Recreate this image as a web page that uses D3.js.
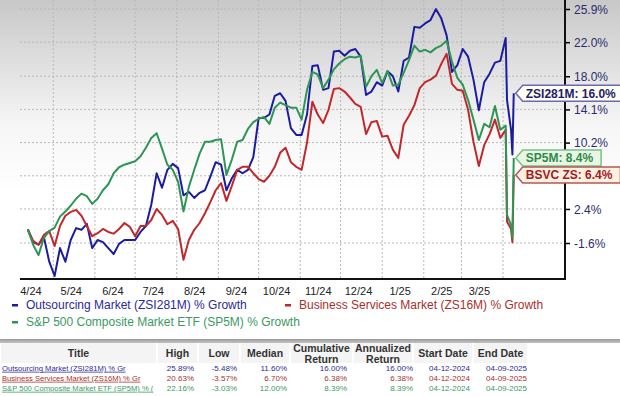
<!DOCTYPE html>
<html>
<head>
<meta charset="utf-8">
<title>Outsourcing vs Business Services vs S&amp;P 500</title>
<style type="text/css">
    body{ margin:0; background:#fff; }
    svg{ display:block; font-family:"Liberation Sans", Arial, sans-serif; }
</style>
</head>
<body>
<div id="chart"></div>

<script src="https://cdn.jsdelivr.net/npm/d3@7"></script>
<script type="text/javascript">

// sample dates (every 4 days, then the last trading days)
var dates = [
 "2024-04-12","2024-04-16","2024-04-20","2024-04-24","2024-04-28",
 "2024-05-02","2024-05-06","2024-05-10","2024-05-14","2024-05-18","2024-05-22","2024-05-26","2024-05-30",
 "2024-06-03","2024-06-07","2024-06-11","2024-06-15","2024-06-19","2024-06-23","2024-06-27",
 "2024-07-01","2024-07-05","2024-07-09","2024-07-13","2024-07-17","2024-07-21","2024-07-25","2024-07-29",
 "2024-08-02","2024-08-06","2024-08-10","2024-08-14","2024-08-18","2024-08-22","2024-08-26","2024-08-30",
 "2024-09-03","2024-09-07","2024-09-11","2024-09-15","2024-09-19","2024-09-23","2024-09-27",
 "2024-10-01","2024-10-05","2024-10-09","2024-10-13","2024-10-17","2024-10-21","2024-10-25","2024-10-29",
 "2024-11-02","2024-11-06","2024-11-10","2024-11-14","2024-11-18","2024-11-22","2024-11-26","2024-11-30",
 "2024-12-04","2024-12-08","2024-12-12","2024-12-16","2024-12-20","2024-12-24","2024-12-28",
 "2025-01-01","2025-01-05","2025-01-09","2025-01-13","2025-01-17","2025-01-21","2025-01-25","2025-01-29",
 "2025-02-02","2025-02-06","2025-02-10","2025-02-14","2025-02-18","2025-02-22","2025-02-26",
 "2025-03-02","2025-03-06","2025-03-10","2025-03-14","2025-03-18","2025-03-22","2025-03-26","2025-03-30",
 "2025-04-03","2025-04-04","2025-04-07","2025-04-08","2025-04-09"
];

// % growth
var outsourcing = [
 0.0,-1.5,-1.8,-0.9,-3.8,
 -5.48,-2.2,-3.8,-1.25,0.15,-0.05,0.65,-2.2,
 -1.25,-1.5,-2.2,-2.9,-1.7,-1.25,-1.25,
 -1.25,-0.3,0.4,2.9,6.6,4.9,7.0,7.7,
 7.2,4.0,4.4,3.7,4.3,4.6,6.2,7.9,
 7.6,4.6,6.0,7.0,6.6,7.0,8.5,
 13.1,13.1,13.5,15.7,16.0,15.1,11.9,11.1,
 11.1,13.5,19.2,19.3,16.4,16.6,20.9,21.0,
 20.4,21.0,21.2,20.3,15.8,16.2,17.3,
 16.9,18.6,18.0,16.2,19.8,20.2,23.8,23.7,
 24.2,24.6,25.89,24.8,22.8,18.5,19.3,
 21.2,20.3,17.6,14.0,17.3,18.3,19.6,19.8,
 22.5,15.2,11.7,8.8,16.0
];

var businessServices = [
 0.0,-1.35,-1.8,-0.65,-0.2,
 -1.95,0.4,1.6,2.05,2.3,1.6,0.4,-0.8,
 -0.45,0.05,-0.3,-0.5,0.05,0.75,0.3,
 -0.8,0.4,0.4,1.1,2.4,1.7,0.6,1.0,
 0.05,-3.57,-1.25,-0.05,0.75,1.9,3.2,4.6,
 5.45,3.35,5.1,7.0,7.35,7.35,6.6,
 5.9,5.6,6.3,7.35,9.0,9.6,7.9,7.35,
 7.0,10.2,15.0,13.5,12.5,14.05,16.5,16.6,
 16.2,15.5,14.75,14.4,11.2,12.6,12.75,
 10.9,11.0,9.35,8.4,12.3,13.35,14.6,16.6,
 17.3,17.6,18.05,19.45,20.63,17.1,16.4,
 16.3,14.05,10.3,7.45,9.9,11.2,12.9,10.75,
 11.7,0.9,0.05,-1.5,6.4
];

var sp500 = [
 0.0,-1.8,-3.03,-1.0,-0.2,
 0.2,1.5,2.1,2.8,3.6,4.2,3.9,3.0,
 3.6,4.6,5.3,6.6,7.3,7.6,7.8,
 8.0,8.6,9.6,10.75,11.3,9.5,7.6,7.0,
 5.6,2.1,5.0,7.0,8.9,10.3,10.3,10.5,
 10.6,6.4,8.2,10.3,10.5,11.8,12.6,
 13.0,13.2,12.4,14.3,14.9,14.6,14.3,14.3,
 12.9,16.4,18.5,18.2,16.6,17.6,18.8,19.5,
 20.0,20.3,20.2,20.4,16.75,18.0,18.75,
 17.2,18.6,16.9,17.0,18.4,19.9,21.6,20.9,
 21.1,20.8,21.3,21.6,22.16,19.7,17.8,
 17.0,15.2,12.9,10.5,12.4,12.0,14.5,11.7,
 12.2,1.7,0.5,-1.0,8.4
];

var yTicks = [-1.6, 2.4, 6.3, 10.2, 14.1, 18.0, 22.0, 25.9];
var hiddenTick = 6.3;   // its label sits under the tag boxes in the original
var monthLabels = ["4/24","5/24","6/24","7/24","8/24","9/24","10/24","11/24","12/24","1/25","2/25","3/25"];

var seriesNames = ["Outsourcing Market (ZSI281M) % Growth",
                   "Business Services Market (ZS16M) % Growth",
                   "S&P 500 Composite Market ETF (SP5M) % Growth"];
var tagNames = ["ZSI281M", "BSVC ZS", "SP5M"];

// table
var tableTitles = ["Outsourcing Market (ZSI281M) % Gr",
                   "Business Services Market (ZS16M) % Gr",
                   "S&P 500 Composite Market ETF (SP5M) % ("];
var highs = ["25.89%","20.63%","22.16%"];
var lows = ["-5.48%","-3.57%","-3.03%"];
var medians = ["11.60%","6.70%","12.00%"];
var cumulative = ["16.00%","6.38%","8.39%"];
var annualized = ["16.00%","6.38%","8.39%"];
var startDates = ["04-12-2024","04-12-2024","04-12-2024"];
var endDates = ["04-09-2025","04-09-2025","04-09-2025"];

var width = 620, height = 396;
var plotLeft = 20, plotRight = 565, plotBottom = 279;

var lineColors = ["#1c1ca0", "#c0282c", "#2e9556"];
var textColors = ["#2a2a9a", "#a8302c", "#3a9a62"];
var tagFill = ["#fffdf0", "#fdf0e2", "#e9f6e4"];
var tagStroke = ["#6a6ab0", "#b05a50", "#78c088"];
var tagText = ["#1e1e6e", "#a0201c", "#2e8a4a"];

var parse = d3.timeParse("%Y-%m-%d");
var dateObjs = dates.map(parse);

var x = d3.scaleTime()
    .domain([new Date(2024,3,1), new Date(2025,3,1)])
    .range([13, 503]);
var y = d3.scaleLinear().domain([-1.6, 25.9]).range([243, 9]);

var svg = d3.select('#chart').append('svg')
    .attr('width', width).attr('height', height);
var defs = svg.append('defs');

/*-------------------- background --------------------*/
var grad = defs.append('linearGradient')
    .attr('id','bg').attr('x1',0).attr('y1',0).attr('x2',0).attr('y2',1);
grad.append('stop').attr('offset','0%').attr('stop-color','#c8c8c8');
grad.append('stop').attr('offset','45%').attr('stop-color','#f6f6f6');
grad.append('stop').attr('offset','70%').attr('stop-color','#ffffff');

svg.append('rect').attr('x',0).attr('y',0).attr('width',width).attr('height',plotBottom)
    .attr('fill','url(#bg)');

defs.append('clipPath').attr('id','titleclip')
    .append('rect').attr('x',0).attr('y',360).attr('width',157).attr('height',36);

/*-------------------- grid --------------------*/
var months = d3.timeMonth.range(new Date(2024,4,1), new Date(2025,3,2));
svg.append('g').selectAll('line').data(months).enter().append('line')
    .attr('x1', d=>x(d)).attr('x2', d=>x(d))
    .attr('y1', 0).attr('y2', plotBottom)
    .attr('stroke','#b8b8b8').attr('stroke-dasharray','2,2');

svg.append('g').selectAll('line').data(yTicks).enter().append('line')
    .attr('x1', plotLeft).attr('x2', plotRight)
    .attr('y1', d=>y(d)).attr('y2', d=>y(d))
    .attr('stroke','#b8b8b8').attr('stroke-dasharray','2,2');

/*-------------------- lines --------------------*/
var allSeries = [outsourcing, businessServices, sp500];
var line = d3.line().x((d,i)=>x(dateObjs[i])).y(d=>y(d));

svg.append('g').selectAll('path').data(allSeries).enter().append('path')
    .attr('d', d=>line(d))
    .attr('fill','none')
    .attr('stroke', (d,i)=>lineColors[i])
    .attr('stroke-width', 2)
    .attr('stroke-linejoin','round');

/*-------------------- axes --------------------*/
var yAxis = d3.axisRight(y).tickValues(yTicks).tickSize(5).tickPadding(4)
    .tickFormat(d=> d === hiddenTick ? '' : d.toFixed(1) + '%');
var gy = svg.append('g').attr('transform','translate(' + plotRight + ',0)').call(yAxis);
gy.select('.domain').remove();
gy.selectAll('line').attr('stroke','#000').attr('stroke-width',1.5);
gy.selectAll('text').attr('fill','#2c2c6c').style('font-size','12px').attr('dy','0.36em');

var midMonths = d3.timeMonth.range(new Date(2024,3,1), new Date(2025,3,1)).map(d=>d3.timeDay.offset(d,13));
var xAxis = d3.axisBottom(x).tickValues(midMonths).tickSize(0).tickPadding(8)
    .tickFormat((d,i)=>monthLabels[i]);
var gx = svg.append('g').attr('transform','translate(0,' + plotBottom + ')').call(xAxis);
gx.select('.domain').remove();
gx.selectAll('text').attr('fill','#222').style('font-size','11px');

svg.append('line').attr('x1',plotLeft).attr('x2',plotRight+1)
    .attr('y1',plotBottom).attr('y2',plotBottom).attr('stroke','#111').attr('stroke-width',2);
svg.append('line').attr('x1',plotRight).attr('x2',plotRight)
    .attr('y1',0).attr('y2',plotBottom+1).attr('stroke','#111').attr('stroke-width',2);

/*-------------------- end tags --------------------*/
var tagOrder = [0, 2, 1];
tagOrder.forEach(function(s){
    var vals = allSeries[s];
    var last = vals[vals.length-1];
    var cy = y(last);
    var tipX = x(dateObjs[dateObjs.length-1]) + 2;
    var g = svg.append('g');
    var path = g.append('path');
    var t = g.append('text')
        .attr('x', tipX + 10).attr('y', cy).attr('dy','0.36em')
        .attr('fill', tagText[s]).style('font-size','12px').style('font-weight','bold')
        .text(tagNames[s] + ': ' + last.toFixed(1) + '%');
    var right = tipX + 10 + t.node().getComputedTextLength() + 8;
    path.attr('d', 'M' + tipX + ',' + cy + 'L' + (tipX+7) + ',' + (cy-8) + 'L' + right + ',' + (cy-8)
            + 'L' + right + ',' + (cy+8) + 'L' + (tipX+7) + ',' + (cy+8) + 'Z')
        .attr('fill', tagFill[s]).attr('stroke', tagStroke[s]).attr('stroke-width', 1.5);
});

/*-------------------- legend --------------------*/
var legendPos = [[12,305],[285,305],[12,322]];
var lg = svg.append('g').selectAll('g').data(seriesNames).enter().append('g')
    .attr('transform',(d,i)=>'translate(' + legendPos[i][0] + ',' + legendPos[i][1] + ')');
lg.append('rect').attr('x',0).attr('y',-1).attr('width',6).attr('height',2.5)
    .attr('fill',(d,i)=>lineColors[i]);
lg.append('text').attr('x',14).attr('y',0).attr('dy','0.36em')
    .attr('fill',(d,i)=>textColors[i]).style('font-size','12px').text(d=>d);

/*-------------------- table --------------------*/
var sep = defs.append('linearGradient')
    .attr('id','sep').attr('x1',0).attr('y1',0).attr('x2',0).attr('y2',1);
sep.append('stop').attr('offset','0%').attr('stop-color','#9a9a9a');
sep.append('stop').attr('offset','100%').attr('stop-color','#c4c4c4');
svg.append('rect').attr('x',0).attr('y',339).attr('width',width).attr('height',4).attr('fill','url(#sep)');

var colEdges = [0, 157, 198, 240, 290, 353, 413, 473, 528];
var headers = [["Title"],["High"],["Low"],["Median"],["Cumulative","Return"],["Annualized","Return"],["Start Date"],["End Date"]];
var hg = svg.append('g');
headers.forEach(function(h, i){
    hg.append('rect').attr('x', colEdges[i] + 1).attr('y', 343)
        .attr('width', colEdges[i+1] - colEdges[i] - 2).attr('height', 20)
        .attr('fill', '#f4f4f4');
    var cx = (colEdges[i] + colEdges[i+1]) / 2;
    h.forEach(function(s, j){
        hg.append('text').attr('x', cx)
            .attr('y', h.length == 1 ? 353 : 348 + j*11).attr('dy','0.36em')
            .attr('text-anchor','middle').attr('fill','#333')
            .style('font-size','10.5px').style('font-weight','bold').text(s);
    });
});

var rowY = [368, 378, 388];
var cols = [highs, lows, medians, cumulative, annualized, startDates, endDates];
var colRight = [194, 237, 287, 347, 413, 470, 527];
var tg = svg.append('g');
tg.append('g').attr('clip-path','url(#titleclip)').selectAll('text').data(tableTitles).enter().append('text')
    .attr('x', 2).attr('y', (d,i)=>rowY[i]).attr('dy','0.36em')
    .attr('fill',(d,i)=>textColors[i]).style('font-size','7.6px')
    .style('text-decoration','underline').text(d=>d);
cols.forEach(function(col, c){
    tg.append('g').selectAll('text').data(col).enter().append('text')
        .attr('x', colRight[c]).attr('y', (d,i)=>rowY[i]).attr('dy','0.36em')
        .attr('text-anchor','end').attr('fill',(d,i)=>textColors[i])
        .style('font-size','8px').text(d=>d);
});

</script>
</body>
</html>
